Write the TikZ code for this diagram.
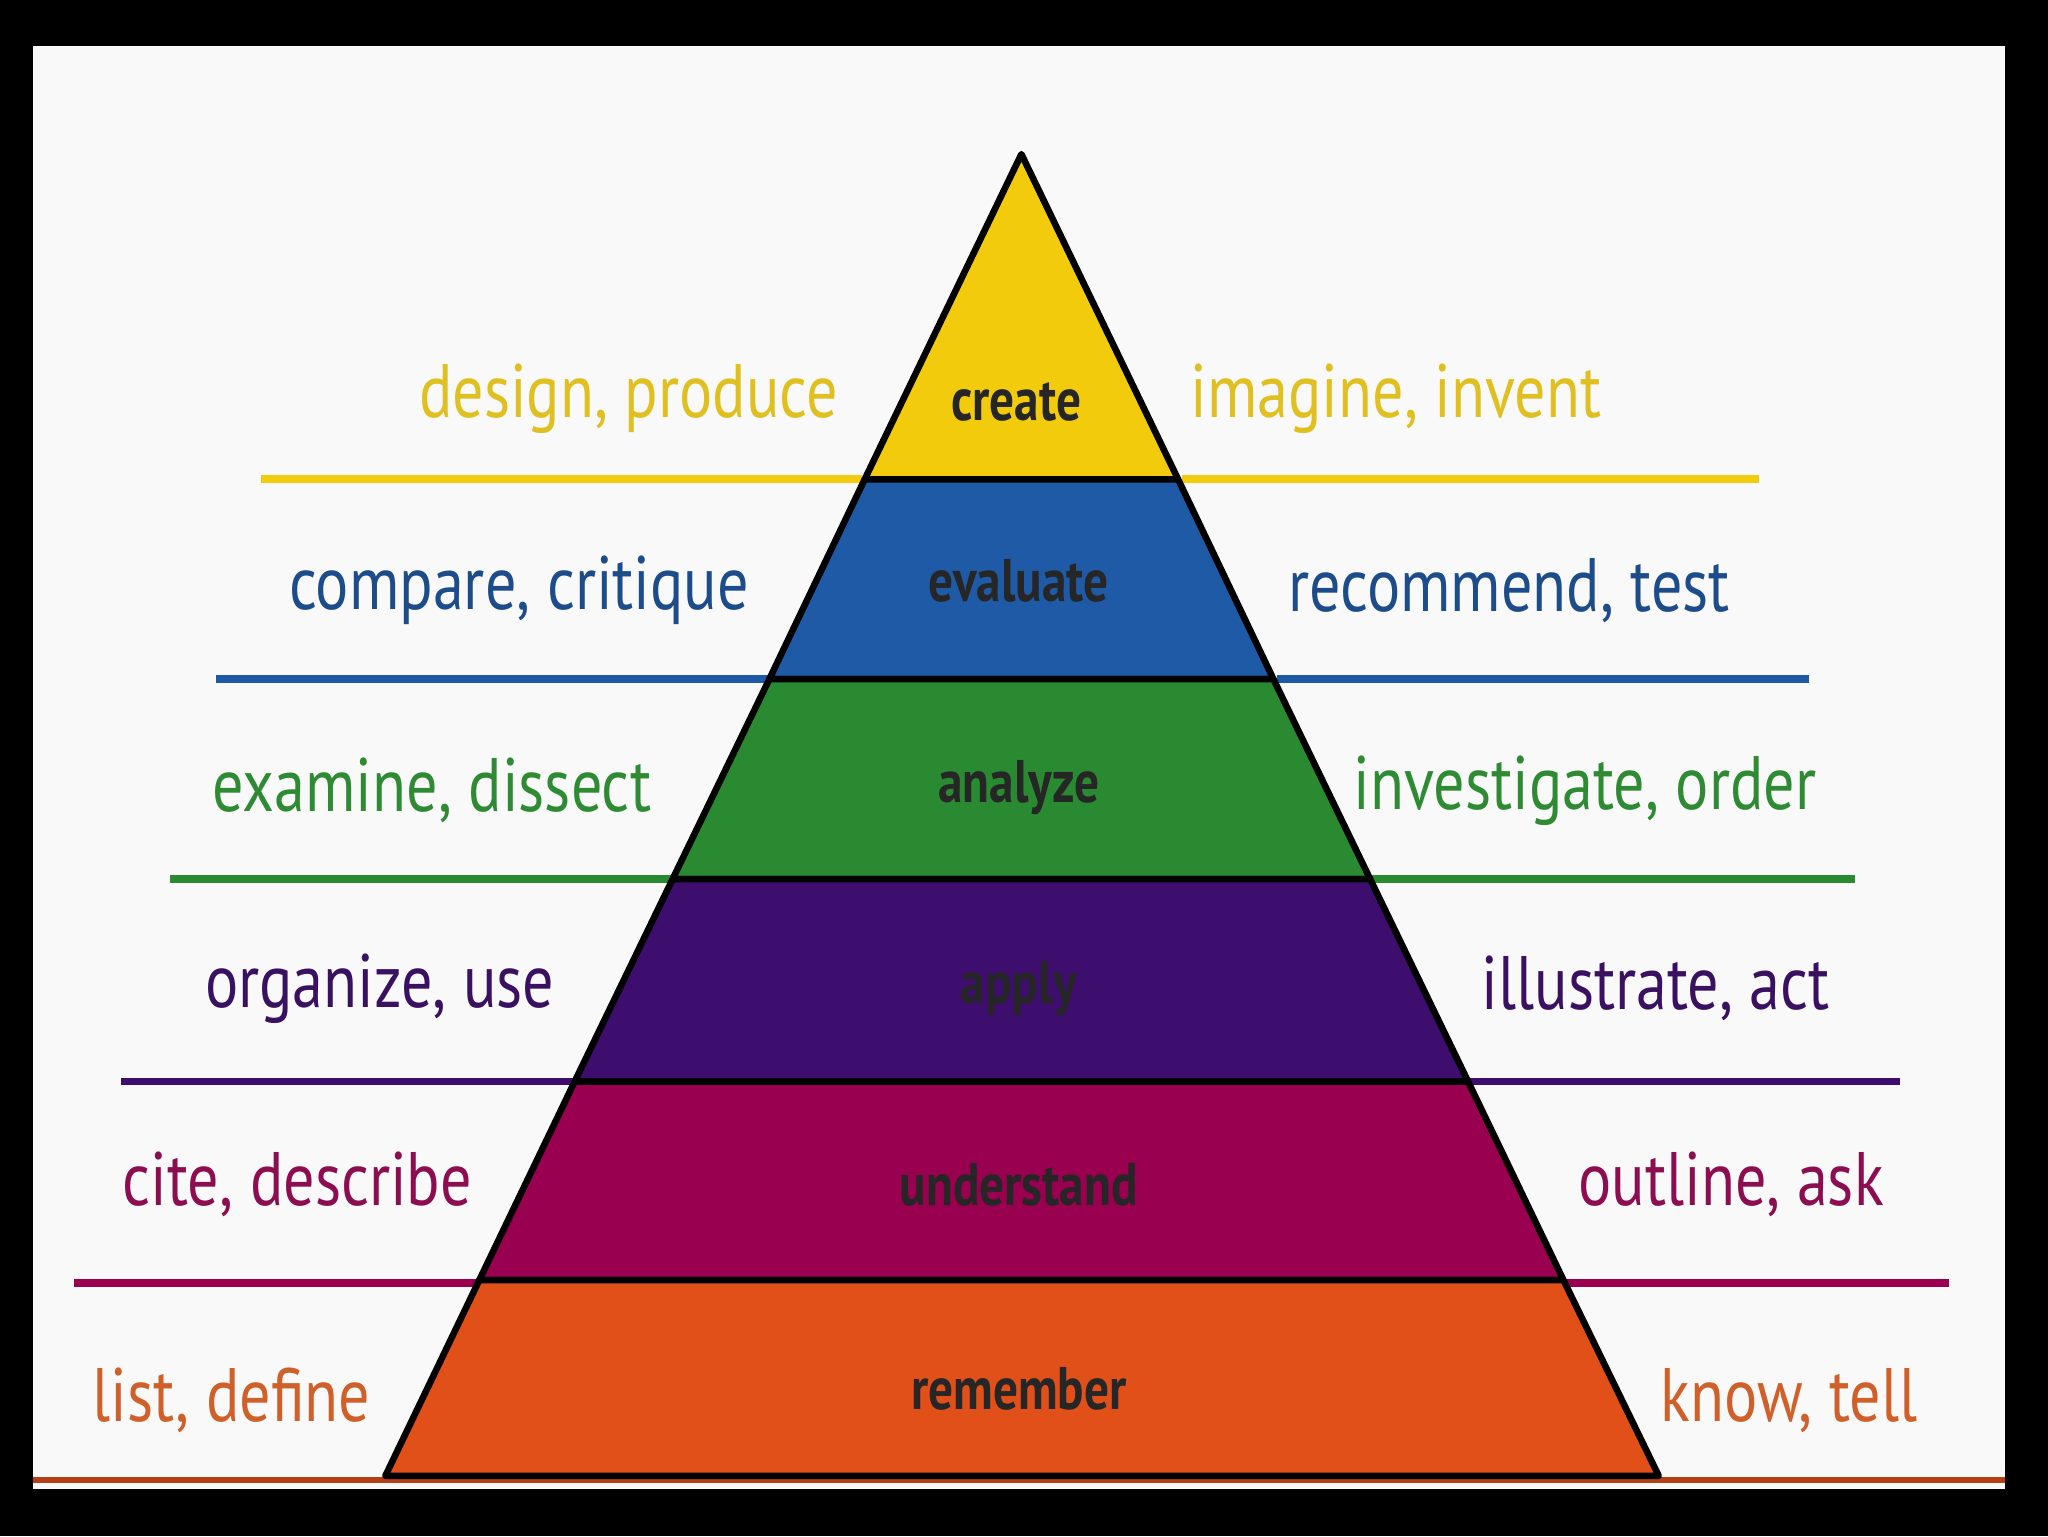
\documentclass[tikz,border=0pt]{standalone}
\usepackage{fontspec}
\setmainfont{PT Sans}
\newfontfamily\narrowfont[FakeStretch=0.82]{PT Sans}
\definecolor{kyel}{HTML}{F2CC0C}\definecolor{kblu}{HTML}{1F5AA6}\definecolor{kgrn}{HTML}{2A8A32}
\definecolor{kpur}{HTML}{3D0E6E}\definecolor{kmag}{HTML}{9A0050}\definecolor{kora}{HTML}{E2501A}
\definecolor{tyel}{HTML}{E0C020}\definecolor{tblu}{HTML}{1C4C8A}\definecolor{tgrn}{HTML}{2E8B34}
\definecolor{tpur}{HTML}{3A1060}\definecolor{tmag}{HTML}{8C0D50}\definecolor{tora}{HTML}{D0602A}
\tikzset{band/.style={draw=black,line width=5pt,line join=round},
 side/.style={line width=6pt},
 lft/.style={anchor=east,font=\narrowfont\fontsize{58}{64}\selectfont},
 rgt/.style={anchor=west,font=\narrowfont\fontsize{58}{64}\selectfont},
 mid/.style={font=\narrowfont\bfseries\fontsize{46}{52}\selectfont,text=black!85}}
\begin{document}
\begin{tikzpicture}[x=1pt,y=-1pt]
\fill[black] (0,0) rectangle (1568,1176);
\fill[white!95!gray] (25,35) rectangle (1535,1140);
\draw[line width=5pt,kora!80!black] (25,1133) -- (1535,1133);
\useasboundingbox (0,0) rectangle (1568,1176);
% side lines
\draw[side,kyel] (200,367) -- (660,367); \draw[side,kyel] (905,367) -- (1347,367);
\draw[side,kblu] (165,520) -- (588,520); \draw[side,kblu] (978,520) -- (1385,520);
\draw[side,kgrn] (130,673) -- (515,673); \draw[side,kgrn] (1050,673) -- (1420,673);
\draw[side,kpur] (93,828) -- (440,828); \draw[side,kpur] (1124,828) -- (1455,828);
\draw[side,kmag] (57,982) -- (367,982); \draw[side,kmag] (1197,982) -- (1492,982);
% bands
\draw[band,fill=kyel] (782,118) -- (902,367) -- (662,367) -- cycle;
\draw[band,fill=kblu] (662,367) -- (902,367) -- (975,520) -- (589,520) -- cycle;
\draw[band,fill=kgrn] (589,520) -- (975,520) -- (1049,673) -- (515,673) -- cycle;
\draw[band,fill=kpur] (515,673) -- (1049,673) -- (1124,828) -- (440,828) -- cycle;
\draw[band,fill=kmag] (440,828) -- (1124,828) -- (1197,980) -- (367,980) -- cycle;
\draw[band,fill=kora] (367,980) -- (1197,980) -- (1270,1130) -- (295,1130) -- cycle;
% center labels
\node[mid] (l1) at (778,308) {create};
\node[mid] (l2) at (780,445) {evaluate};
\node[mid] (l3) at (780,603) {analyze};
\node[mid] (l4) at (780,757) {apply};
\node[mid] (l5) at (780,907) {understand};
\node[mid] (l6) at (780,1063) {remember};
% side labels
\node[lft,text=tyel] (a1) at (645,305) {design, produce};
\node[rgt,text=tyel] (b1) at (908,305) {imagine, invent};
\node[lft,text=tblu] (a2) at (577,452) {compare, critique};
\node[rgt,text=tblu] (b2) at (983,452) {recommend, test};
\node[lft,text=tgrn] (a3) at (502,605) {examine, dissect};
\node[rgt,text=tgrn] (b3) at (1033,605) {investigate, order};
\node[lft,text=tpur] (a4) at (428,757) {organize, use};
\node[rgt,text=tpur] (b4) at (1131,757) {illustrate, act};
\node[lft,text=tmag] (a5) at (365,907) {cite, describe};
\node[rgt,text=tmag] (b5) at (1205,907) {outline, ask};
\node[lft,text=tora] (a6) at (287,1072) {list, define};
\node[rgt,text=tora] (b6) at (1268,1072) {know, tell};
\end{tikzpicture}
\end{document}
